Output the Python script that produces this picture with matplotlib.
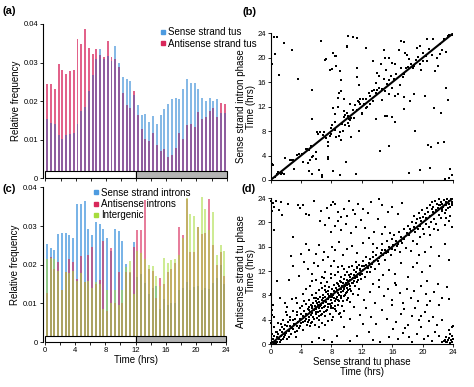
import matplotlib
matplotlib.use("Agg")
import matplotlib.pyplot as plt
import numpy as np
from matplotlib.lines import Line2D
from matplotlib.patches import Rectangle

plt.rcParams.update({"font.family": "Liberation Sans", "axes.spines.top": False, "axes.spines.right": False})

# ---- panel (a): 48 half-hour bins
sense_tus = [0.0152, 0.0144, 0.0139, 0.0111, 0.0101, 0.0112, 0.0115, 0.0117, 0.0140, 0.0174, 0.0184, 0.0226,
             0.0267, 0.0308, 0.0336, 0.0310, 0.0318, 0.0305, 0.0343, 0.0300, 0.0262, 0.0256, 0.0251, 0.0215,
             0.0189, 0.0164, 0.0165, 0.0145, 0.0160, 0.0139, 0.0163, 0.0178, 0.0193, 0.0206, 0.0209, 0.0204,
             0.0232, 0.0256, 0.0248, 0.0247, 0.0230, 0.0209, 0.0199, 0.0208, 0.0199, 0.0204, 0.0170, 0.0168]
antisense_tus = [0.0245, 0.0243, 0.0232, 0.0295, 0.0280, 0.0271, 0.0278, 0.0280, 0.0360, 0.0347, 0.0387, 0.0338,
                 0.0323, 0.0335, 0.0320, 0.0315, 0.0357, 0.0315, 0.0310, 0.0289, 0.0221, 0.0189, 0.0183, 0.0226,
                 0.0163, 0.0128, 0.0102, 0.0096, 0.0117, 0.0087, 0.0069, 0.0076, 0.0054, 0.0061, 0.0079, 0.0117,
                 0.0102, 0.0137, 0.0139, 0.0132, 0.0171, 0.0152, 0.0158, 0.0173, 0.0182, 0.0158, 0.0196, 0.0193]

# ---- panel (c)
sense_introns = [0.0254, 0.0242, 0.0238, 0.0280, 0.0281, 0.0281, 0.0278, 0.0268, 0.0356, 0.0356, 0.0365, 0.0292,
                 0.0277, 0.0310, 0.0306, 0.0292, 0.0268, 0.0236, 0.0293, 0.0287, 0.0260, 0.0202, 0.0178, 0.0258,
                 0.0168, 0.0175, 0.0152, 0.0125, 0.0140, 0.0145, 0.0085, 0.0112, 0.0095, 0.0100, 0.0100, 0.0135,
                 0.0140, 0.0155, 0.0135, 0.0142, 0.0145, 0.0135, 0.0140, 0.0137, 0.0152, 0.0165, 0.0200, 0.0150]
antisense_introns = [0.0126, 0.0220, 0.0190, 0.0206, 0.0135, 0.0180, 0.0215, 0.0206, 0.0164, 0.0223, 0.0155, 0.0225,
                     0.0247, 0.0150, 0.0160, 0.0260, 0.0080, 0.0243, 0.0100, 0.0182, 0.0100, 0.0180, 0.0180, 0.0245,
                     0.0289, 0.0290, 0.0367, 0.0190, 0.0185, 0.0115, 0.0165, 0.0150, 0.0182, 0.0190, 0.0205, 0.0297,
                     0.0277, 0.0370, 0.0234, 0.0234, 0.0298, 0.0280, 0.0282, 0.0371, 0.0250, 0.0200, 0.0234, 0.0172]
intergenic = [0.0215, 0.0218, 0.0215, 0.0185, 0.0135, 0.0180, 0.0178, 0.0184, 0.0158, 0.0178, 0.0155, 0.0158,
              0.0140, 0.0155, 0.0150, 0.0085, 0.0135, 0.0100, 0.0135, 0.0095, 0.0135, 0.0195, 0.0210, 0.0125,
              0.0235, 0.0230, 0.0215, 0.0200, 0.0196, 0.0170, 0.0145, 0.0218, 0.0205, 0.0212, 0.0215, 0.0225,
              0.0270, 0.0372, 0.0330, 0.0325, 0.0298, 0.0375, 0.0345, 0.0290, 0.0335, 0.0225, 0.0252, 0.0235]

# ---- panel (b): sense tu phase vs sense intron phase (hrs)
b_points = [
    (0.2, 2.6), (0.3, 2.4), (0.6, 0.5), (0.8, 1.0), (1.0, 1.3), (1.2, 1.1), (1.5, 1.2), (1.3, 1.0), (1.9, 3.6),
    (1.8, 1.0), (2.6, 3.3), (2.8, 3.2), (3.0, 3.3), (3.1, 1.8), (3.4, 4.1), (3.7, 4.2), (4.1, 4.3), (4.3, 3.0),
    (4.6, 5.0), (4.8, 5.1), (5.0, 4.9), (4.9, 2.7), (5.2, 3.2), (5.3, 5.5), (5.6, 4.0), (5.5, 3.8), (5.9, 4.5),
    (6.0, 3.5), (6.2, 7.5), (6.1, 7.9), (6.5, 7.8), (6.9, 7.4), (7.0, 7.9), (7.3, 6.8), (7.5, 5.6), (7.6, 6.2),
    (7.8, 7.2), (8.0, 7.6), (7.9, 8.5), (8.1, 9.0), (8.4, 9.5), (8.5, 8.2), (8.6, 7.0), (9.0, 7.2), (9.1, 7.8),
    (9.3, 6.5), (9.5, 8.0), (9.6, 10.3), (9.8, 10.7), (10.0, 11.0), (10.2, 10.5), (10.3, 10.0), (10.4, 9.8),
    (10.6, 10.2), (10.8, 11.5), (11.0, 10.1), (11.1, 12.2), (11.3, 11.4), (11.5, 13.0), (11.6, 12.8), (11.8, 12.5),
    (12.0, 11.0), (12.1, 13.2), (12.3, 12.4), (12.5, 13.3), (12.7, 12.0), (12.9, 14.2), (13.1, 13.8), (13.3, 14.6),
    (13.5, 13.0), (13.6, 14.8), (13.8, 14.2), (14.0, 14.7), (14.3, 15.1), (14.6, 14.9), (14.7, 13.1), (14.9, 16.5),
    (15.1, 14.5), (15.3, 15.7), (15.5, 16.3), (15.6, 14.0), (15.8, 17.0), (16.0, 15.0), (16.2, 16.5), (16.4, 13.7),
    (16.5, 17.4), (16.8, 14.0), (17.0, 15.5), (17.2, 18.4), (17.4, 16.9), (17.6, 17.3), (17.8, 18.3), (18.0, 18.5),
    (18.3, 13.0), (18.5, 19.0), (18.7, 18.4), (18.9, 18.7), (19.1, 19.6), (19.4, 20.1), (19.6, 19.0), (19.8, 18.0),
    (20.1, 20.8), (20.4, 20.3), (20.6, 19.5), (20.8, 21.4), (21.2, 20.4), (21.6, 17.8), (21.9, 20.0), (22.0, 18.6),
    (22.3, 20.6), (22.6, 21.3), (22.8, 23.0), (23.0, 21.0), (23.3, 23.6), (23.5, 23.8), (23.8, 23.7),
    (0.2, 19.0), (0.4, 23.4), (0.9, 23.4), (0.6, 20.6), (1.1, 17.2), (1.8, 22.4), (2.8, 21.2), (3.6, 16.6),
    (5.4, 14.7), (5.4, 9.9), (6.6, 22.8), (7.1, 19.6), (7.3, 19.8), (7.8, 18.0), (8.1, 18.2), (8.2, 20.8),
    (8.4, 20.3), (8.6, 20.3), (8.6, 18.6), (9.1, 17.9), (9.2, 14.5), (9.0, 14.2), (8.9, 13.4), (8.8, 12.0),
    (8.2, 11.7), (8.5, 10.8), (9.3, 16.3), (9.6, 11.3), (9.6, 13.3), (10.0, 21.8), (10.1, 22.0), (10.2, 23.5),
    (10.5, 12.4), (10.8, 23.4), (11.3, 23.3), (11.4, 18.4), (11.3, 16.8), (11.6, 15.5), (11.8, 13.2), (12.6, 21.6),
    (13.4, 19.4), (13.8, 15.9), (14.0, 17.5), (14.2, 17.0), (14.5, 19.0), (14.9, 21.2), (15.0, 20.0), (15.2, 18.0),
    (15.6, 20.0), (16.0, 19.2), (16.4, 19.0), (16.9, 21.3), (17.1, 22.8), (17.5, 22.5), (17.7, 20.7), (17.9, 20.5),
    (18.2, 19.8), (19.3, 21.6), (19.7, 22.0), (20.1, 19.5), (20.6, 23.0), (21.3, 23.1), (22.3, 22.2),
    (5.0, 1.5), (5.5, 1.0), (6.4, 1.6), (6.7, 0.8), (6.8, 0.5), (7.5, 3.8), (7.6, 3.5), (8.2, 1.5), (9.1, 0.8),
    (9.9, 3.0), (10.6, 7.0), (11.2, 1.0), (11.6, 8.0), (12.0, 10.8), (13.8, 10.0), (14.4, 4.8), (15.0, 10.4),
    (15.3, 10.5), (15.6, 5.6), (16.0, 10.3), (16.4, 9.5), (17.5, 13.5), (17.5, 11.6), (18.2, 1.2), (18.8, 14.0),
    (19.0, 8.0), (19.6, 1.7), (20.3, 13.7), (20.7, 5.8), (21.0, 2.0), (21.1, 5.4), (21.5, 11.8), (22.0, 6.1),
    (22.4, 10.9), (22.8, 6.2), (23.0, 15.0), (23.3, 13.1), (23.5, 0.3), (23.6, 1.8), (23.9, 0.8), (22.9, 0.2),
    (12.6, 11.8), (13.0, 12.4), (10.2, 9.3), (10.3, 8.8), (9.8, 9.0), (9.4, 9.2),
]

# ---- panel (d): sense tu phase vs antisense tu phase (hrs)
d_band = [
    (0.1, 0.2), (0.2, 1.6), (0.3, 0.9), (0.4, 0.1), (0.5, 1.4), (0.5, 4.4), (0.6, 0.5), (0.7, 2.0), (0.8, 1.1),
    (0.9, 0.3), (1.0, 1.7), (1.0, 3.5), (1.1, 0.8), (1.2, 2.3), (1.3, 1.3), (1.4, 0.6), (1.5, 2.8), (1.5, 1.9),
    (1.6, 4.0), (1.7, 1.2), (1.8, 2.5), (1.9, 3.1), (2.0, 1.8), (2.0, 5.2), (2.1, 2.9), (2.2, 0.9), (2.3, 3.6),
    (2.4, 2.2), (2.5, 4.5), (2.6, 3.0), (2.7, 1.6), (2.8, 2.6), (2.9, 3.9), (3.0, 5.5), (3.0, 2.4), (3.1, 3.3),
    (3.2, 4.2), (3.3, 1.1), (3.4, 3.0), (3.5, 4.8), (3.6, 3.7), (3.7, 2.6), (3.8, 5.9), (3.9, 4.1), (4.0, 3.4),
    (4.0, 5.0), (4.1, 6.2), (4.2, 4.6), (4.3, 2.3), (4.4, 5.4), (4.5, 3.8), (4.6, 6.6), (4.7, 4.9), (4.8, 3.1),
    (4.9, 5.8), (5.0, 4.4), (0.1, 3.5), (0.2, 5.6), (0.3, 6.4), (0.1, 8.3), (0.4, 2.8), (0.2, 4.8),
    (0.3, 0.4), (0.7, 0.2), (0.9, 1.9), (1.2, 0.3), (1.6, 0.9), (1.9, 1.5), (2.4, 1.2), (2.6, 4.0), (3.2, 2.0),
    (3.5, 2.2), (3.9, 2.9), (4.2, 3.6), (4.6, 4.1), (4.9, 3.7), (1.4, 3.3), (2.2, 4.8), (3.4, 5.2), (4.4, 7.1),
    (5.0, 6.1), (5.1, 4.0), (5.1, 7.2), (5.2, 5.3), (5.2, 2.9), (5.3, 6.5), (5.3, 4.7), (5.4, 5.9), (5.4, 8.0),
    (5.5, 3.6), (5.5, 5.1), (5.6, 6.8), (5.6, 4.4), (5.7, 7.6), (5.7, 5.6), (5.8, 3.2), (5.8, 6.3), (5.9, 4.9),
    (5.9, 7.1), (6.0, 5.8), (6.0, 8.4), (6.1, 6.7), (6.1, 4.3), (6.2, 5.2), (6.2, 7.4), (6.3, 6.0), (6.3, 3.9),
    (6.4, 8.9), (6.4, 6.9), (6.5, 5.5), (6.5, 7.8), (6.6, 4.8), (6.6, 6.4), (6.7, 9.3), (6.7, 7.2), (6.8, 5.9),
    (6.8, 3.5), (6.9, 6.8), (6.9, 8.1), (7.0, 7.0), (7.0, 5.2), (7.1, 9.6), (7.1, 6.3), (7.2, 7.7), (7.2, 4.6),
    (7.3, 8.5), (7.3, 6.9), (7.4, 5.6), (7.4, 10.2), (7.5, 7.4), (7.5, 8.8), (7.6, 6.1), (7.6, 3.8), (7.7, 7.9),
    (7.7, 9.4), (7.8, 6.6), (7.8, 5.0), (7.9, 8.3), (7.9, 10.8), (8.0, 7.3), (8.0, 5.9), (8.1, 9.0), (8.1, 6.8),
    (8.2, 8.0), (8.2, 4.4), (8.3, 9.7), (8.3, 7.5), (8.4, 6.2), (8.4, 11.3), (8.5, 8.6), (8.5, 7.1),
    (5.1, 5.6), (5.3, 3.4), (5.5, 6.3), (5.7, 4.1), (5.9, 5.3), (6.0, 7.6), (6.2, 6.4), (6.4, 4.6), (6.5, 6.2),
    (6.7, 5.0), (6.9, 7.5), (7.0, 6.1), (7.2, 8.9), (7.3, 5.4), (7.5, 6.6), (7.6, 8.2), (7.8, 7.7), (7.9, 6.3),
    (8.1, 7.8), (8.2, 6.0), (8.3, 8.8), (8.5, 5.7), (8.6, 7.4), (8.7, 8.9), (8.9, 7.2), (9.0, 9.5), (9.2, 7.9),
    (9.3, 10.2), (9.5, 7.0), (9.7, 9.0), (9.8, 8.0), (10.0, 9.3), (10.1, 8.5), (10.3, 11.3), (10.4, 9.5),
    (10.6, 8.7), (10.8, 10.0), (10.9, 12.1), (11.1, 10.8), (11.3, 12.7), (11.5, 10.5), (11.7, 12.4), (11.9, 11.6),
    (6.6, 10.0), (7.0, 10.9), (8.0, 11.6), (8.8, 12.6), (9.4, 12.9), (6.3, 2.8), (7.1, 3.2), (8.1, 3.9), (9.2, 4.5),
    (8.6, 9.3), (8.6, 5.4), (8.7, 7.8), (8.7, 10.1), (8.8, 8.4), (8.8, 6.5), (8.9, 9.8), (8.9, 11.9), (9.0, 8.1),
    (9.0, 7.0), (9.1, 10.4), (9.1, 5.1), (9.2, 9.1), (9.2, 8.6), (9.3, 7.5), (9.3, 11.0), (9.4, 9.6), (9.4, 6.3),
    (9.5, 10.0), (9.5, 8.8), (9.6, 12.4), (9.6, 9.2), (9.7, 7.9), (9.7, 10.7), (9.8, 9.5), (9.8, 11.4), (9.9, 8.4),
    (9.9, 10.1), (10.0, 10.6), (10.0, 7.3), (10.1, 9.7), (10.1, 11.8), (10.2, 10.3), (10.2, 8.9), (10.3, 12.6),
    (10.3, 9.9), (10.4, 11.1), (10.4, 6.9), (10.5, 10.5), (10.5, 9.1), (10.6, 11.6), (10.7, 10.0), (10.7, 12.9),
    (10.8, 10.9), (10.8, 8.3), (10.9, 11.4), (11.0, 10.4), (11.0, 12.2), (11.1, 9.6), (11.2, 11.9), (11.2, 13.5),
    (11.3, 11.0), (11.4, 10.2), (11.4, 12.5), (11.5, 11.6), (11.6, 9.0), (11.6, 13.0), (11.7, 11.3), (11.8, 12.1),
    (11.9, 10.7), (12.0, 12.8), (12.0, 11.5),
    (12.1, 13.6), (12.2, 12.2), (12.4, 11.0), (12.5, 13.0), (12.6, 14.3), (12.8, 12.5), (12.9, 13.4), (13.0, 11.8),
    (13.1, 14.0), (13.3, 13.2), (13.4, 15.2), (13.6, 13.7), (13.7, 12.4), (13.9, 14.6), (14.0, 15.8), (14.2, 14.1),
    (14.3, 13.1), (14.5, 15.0), (14.6, 16.4), (14.8, 14.6), (15.0, 15.5), (15.1, 13.9), (15.3, 16.9), (15.4, 15.2),
    (15.6, 16.0), (15.8, 14.6), (15.9, 17.2), (16.1, 16.3), (16.2, 18.0), (16.4, 15.4), (16.5, 17.0), (16.7, 16.5),
    (16.9, 18.4), (17.0, 15.1), (17.2, 17.6), (17.3, 16.6), (17.5, 18.9), (17.6, 17.2), (17.8, 15.8), (17.9, 18.2),
    (18.0, 19.5), (12.3, 12.9), (12.7, 11.9), (13.2, 12.7), (13.5, 14.3), (14.1, 13.6), (14.7, 15.5), (15.2, 14.9),
    (16.0, 15.7), (16.6, 16.1), (17.1, 16.9),
    (18.2, 17.9), (18.3, 19.0), (18.4, 15.3), (18.5, 18.6), (18.6, 20.1), (18.7, 17.0), (18.8, 19.3), (18.9, 21.0),
    (19.0, 18.4), (19.1, 19.9), (19.2, 16.4), (19.3, 20.6), (19.4, 18.9), (19.5, 21.5), (19.6, 19.4), (19.7, 17.6),
    (19.8, 20.2), (19.9, 22.0), (20.0, 19.0), (20.1, 20.9), (20.2, 18.1), (20.3, 21.4), (20.4, 19.8), (20.5, 22.4),
    (20.6, 20.5), (20.7, 21.8), (20.8, 19.2), (20.9, 22.9), (21.0, 21.0), (21.1, 20.1), (21.2, 23.3), (21.3, 21.7),
    (21.4, 22.6), (21.5, 20.6), (21.6, 23.6), (21.7, 22.1), (21.8, 19.8), (21.9, 23.0), (22.0, 22.4), (22.1, 21.3),
    (22.2, 23.8), (22.3, 22.9), (22.4, 23.4), (22.5, 21.9), (22.6, 23.1), (22.7, 22.6), (22.8, 23.7), (22.9, 21.5),
    (23.0, 23.3), (23.1, 22.8), (23.2, 23.9), (23.3, 22.3), (23.4, 23.5), (23.5, 23.0), (23.6, 22.5), (23.7, 23.8),
    (23.8, 22.9), (23.9, 23.4), (23.4, 20.3), (23.9, 19.3), (23.6, 21.1), (22.9, 19.6), (22.4, 20.8), (23.1, 20.8),
    (21.5, 18.9), (20.9, 17.9), (22.0, 18.7), (22.6, 22.2), (23.0, 22.0), (23.5, 23.6), (23.8, 23.0), (22.1, 22.8),
    (21.2, 22.2), (20.4, 20.7), (19.7, 20.8),
]
d_upper = [
    (0.1, 23.6), (0.3, 23.2), (0.5, 22.6), (0.2, 21.9), (0.7, 23.5), (1.1, 22.1), (1.3, 23.3), (1.5, 21.2),
    (2.3, 23.0), (3.6, 22.8), (3.9, 22.4), (4.3, 22.9), (4.7, 21.4), (5.1, 21.3), (5.7, 23.6), (6.6, 21.9),
    (7.4, 22.3), (7.9, 22.9), (8.2, 23.4), (8.5, 23.0), (8.9, 21.7), (9.3, 20.9), (9.6, 22.2), (10.0, 21.1),
    (10.3, 23.6), (10.8, 22.0), (11.1, 21.4), (11.5, 23.1), (12.1, 22.2), (12.8, 21.6), (13.2, 23.4), (14.3, 23.9),
    (14.6, 22.9), (15.4, 21.7), (16.0, 22.5), (16.8, 21.4), (17.3, 23.2),
    (6.5, 20.3), (7.1, 19.6), (7.7, 20.8), (8.0, 18.4), (8.4, 19.5), (8.8, 20.2), (9.2, 18.7), (9.9, 19.8),
    (10.6, 18.3), (11.2, 19.2), (11.9, 20.4), (12.4, 19.1), (13.6, 18.5), (14.1, 20.6), (15.0, 19.3), (15.7, 18.2),
    (2.9, 17.6), (4.7, 16.4), (5.0, 15.5), (5.9, 14.8), (6.4, 16.3), (7.0, 15.2), (7.6, 14.3), (8.1, 15.9),
    (8.5, 15.4), (9.0, 16.8), (9.5, 14.6), (10.1, 15.7), (10.7, 16.2), (11.3, 15.0), (12.2, 16.7), (12.9, 17.4),
    (13.5, 16.5), (14.6, 18.1),
    (2.7, 14.5), (3.0, 12.8), (2.4, 10.6), (3.7, 11.2), (4.0, 14.8), (4.4, 13.5), (4.9, 12.3), (5.5, 11.5),
    (5.7, 13.3), (6.2, 12.9), (6.9, 13.8), (7.2, 11.9), (7.9, 12.8), (8.3, 13.6), (6.0, 10.5), (6.7, 11.0),
    (0.8, 10.4), (0.4, 18.7), (1.2, 7.5), (1.9, 6.8), (2.8, 7.4), (3.3, 7.6), (3.5, 6.7), (4.2, 8.3), (4.6, 9.1),
    (5.2, 9.6), (5.4, 10.3), (2.1, 6.1),
]
d_lower = [
    (5.4, 0.4), (6.3, 1.0), (7.0, 0.6), (8.1, 0.3), (8.7, 1.3), (9.6, 2.8), (10.5, 0.5), (11.3, 1.4), (12.1, 3.3),
    (12.9, 1.9), (13.5, 0.7), (14.4, 0.4), (15.5, 1.2), (16.1, 2.5), (16.8, 0.9), (17.4, 1.8), (17.7, 2.6),
    (18.2, 1.2), (18.6, 0.3), (19.2, 1.6), (19.8, 2.8), (20.2, 0.8), (20.7, 1.3), (21.2, 0.5), (21.6, 2.0),
    (22.1, 1.4), (22.6, 0.3), (22.9, 0.7), (23.2, 0.4), (23.4, 1.0), (23.6, 0.2), (23.7, 0.6), (23.8, 1.3),
    (23.9, 0.4), (23.5, 2.3), (23.8, 2.8), (23.3, 0.6), (23.1, 0.3), (23.6, 1.6), (24.0, 0.9), (22.8, 0.5),
    (23.0, 1.2),
    (9.0, 4.9), (9.7, 5.5), (10.4, 4.2), (11.0, 6.1), (11.8, 4.8), (12.6, 5.9), (13.2, 4.4), (13.8, 3.3),
    (14.6, 5.6), (15.3, 4.1), (15.9, 6.4), (16.5, 3.6), (17.1, 4.9), (17.6, 5.8), (18.1, 3.2), (18.6, 4.6),
    (19.0, 5.9), (19.5, 3.9), (19.8, 4.6), (20.3, 5.3), (20.8, 3.8), (21.4, 4.4), (21.9, 3.2), (22.5, 4.0),
    (23.4, 7.4), (24.0, 3.0), (22.1, 6.4), (20.5, 6.5),
    (10.2, 7.6), (11.5, 8.0), (12.3, 7.3), (13.0, 8.6), (13.7, 6.8), (14.3, 9.4), (14.9, 7.9), (15.4, 9.0),
    (16.0, 7.3), (16.5, 9.7), (17.0, 8.4), (17.4, 6.8), (17.9, 9.1), (18.5, 7.6), (18.9, 8.8), (19.4, 7.1),
    (19.8, 9.5), (20.4, 8.2), (20.9, 7.0), (21.5, 8.5), (22.0, 9.9), (22.6, 7.5), (23.2, 9.4), (20.6, 10.4),
    (14.8, 11.3), (15.5, 12.2), (16.3, 11.6), (17.2, 13.4), (18.0, 11.0), (18.7, 12.7), (19.3, 13.3), (19.9, 11.8),
    (21.0, 12.9), (20.3, 15.2), (19.5, 14.7), (22.2, 14.5), (23.5, 13.8), (22.9, 16.4), (21.1, 16.0), (16.3, 10.0),
    (14.2, 10.6), (13.4, 9.8),
]

BLUE, RED, GREEN = "#4d9be0", "#d8285a", "#a6dc3c"
ALPHAS = [0.75, 0.6, 0.55]
bins = np.arange(48) * 0.5 + 0.25
hour_ticks = np.arange(0, 25, 4)

fig = plt.figure(figsize=(4.74, 3.87), dpi=100)
ax_a = fig.add_axes([0.091, 0.540, 0.392, 0.398])
ax_c = fig.add_axes([0.090, 0.116, 0.392, 0.400])
ax_b = fig.add_axes([0.571, 0.535, 0.385, 0.379])
ax_d = fig.add_axes([0.571, 0.111, 0.385, 0.377])


def frame_bar_axis(ax, colors, labels, legend_anchor):
    ax.set_xlim(-0.3, 24.3)
    ax.set_ylim(0, 0.04)
    ax.set_yticks([0, 0.01, 0.02, 0.03, 0.04], labels=["0", "0.01", "0.02", "0.03", "0.04"])
    ax.set_xticks(np.arange(0, 25, 2))
    ax.spines["bottom"].set_visible(False)
    ax.add_patch(Rectangle((0, 0), 12, 0.0017, facecolor="white", edgecolor="black", lw=0.8, zorder=5, clip_on=False))
    ax.add_patch(Rectangle((12, 0), 12, 0.0017, facecolor="#b4b4b4", edgecolor="black", lw=0.8, zorder=5, clip_on=False))
    ax.tick_params(labelsize=5.5, length=2, width=0.6, pad=1.5)
    ax.spines["left"].set_linewidth(0.8)
    ax.set_ylabel("Relative frequency", fontsize=7, labelpad=2)
    handles = [Line2D([], [], marker="s", ls="", color=c, markersize=2.5) for c in colors]
    ax.legend(handles, labels, loc="upper left", bbox_to_anchor=legend_anchor, fontsize=7, frameon=False,
              handletextpad=0.1, labelspacing=0.15, handlelength=0.8, borderpad=0)


# (a): sense and antisense overlap shown in purple
ax_a.bar(bins, sense_tus, width=0.26, color="#86b9e6", lw=0)
ax_a.bar(bins, antisense_tus, width=0.26, color="#e2628a", lw=0)
ax_a.bar(bins, np.minimum(sense_tus, antisense_tus), width=0.26, color="#8f5e9f", lw=0)
frame_bar_axis(ax_a, [BLUE, RED], ["Sense strand tus", "Antisense strand tus"], (0.6, 1.01))
ax_a.tick_params(axis="x", labelbottom=False)

# (c): three translucent series
for vals, col, al in zip([sense_introns, antisense_introns, intergenic], [BLUE, RED, GREEN], ALPHAS):
    ax_c.bar(bins, vals, width=0.26, color=col, alpha=al, lw=0)
frame_bar_axis(ax_c, [BLUE, RED, GREEN], ["Sense strand introns", "Antisense introns", "Intergenic"], (0.24, 1.03))
ax_c.set_xticks(np.arange(0, 25, 2), labels=[str(h) if h % 4 == 0 else "" for h in range(0, 25, 2)])
ax_c.set_xlabel("Time (hrs)", fontsize=7, labelpad=1)


def scatter_panel(ax, pts, ylabel):
    xs = [p[0] for p in pts]
    ys = [p[1] for p in pts]
    ax.scatter(xs, ys, s=3.5, color="black", marker="s", lw=0, clip_on=False)
    ax.plot([0, 24], [0, 24], color="black", lw=1.5)
    ax.set_xlim(0, 24)
    ax.set_ylim(0, 24)
    ax.set_xticks(hour_ticks)
    ax.set_yticks(hour_ticks)
    ax.tick_params(labelsize=5.5, length=2, width=0.6, pad=1.5)
    ax.spines["left"].set_linewidth(0.8)
    ax.spines["bottom"].set_linewidth(0.8)
    ax.set_ylabel(ylabel, fontsize=7, labelpad=1, linespacing=1.0)


scatter_panel(ax_b, b_points, "Sense strand intron phase\nTime (hrs)")
ax_b.tick_params(axis="x", labelbottom=False)
scatter_panel(ax_d, d_band + d_upper + d_lower, "Antisense strand tu phase\nTime (hrs)")
ax_d.set_xlabel("Sense strand tu phase\nTime (hrs)", fontsize=7, labelpad=1, linespacing=1.0)

for txt, x, y in [("(a)", 0.005, 0.965), ("(b)", 0.512, 0.96), ("(c)", 0.005, 0.505), ("(d)", 0.51, 0.505)]:
    fig.text(x, y, txt, fontsize=8, fontweight="bold")

fig.savefig("out.png", dpi=100)
